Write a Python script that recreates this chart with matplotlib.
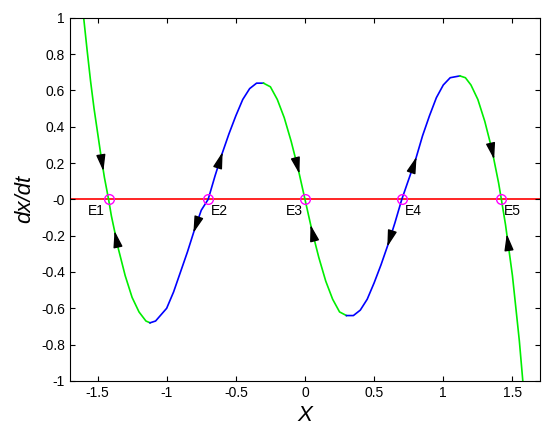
import numpy as np
import matplotlib.pyplot as plt

plt.rcParams['font.family'] = ['Liberation Sans', 'DejaVu Sans']
plt.rcParams['axes.unicode_minus'] = False

# curve: x and dx/dt
xs = [-1.60, -1.575, -1.55, -1.525, -1.50, -1.475, -1.45, -1.42, -1.40, -1.35, -1.30, -1.25, -1.20, -1.15, -1.12,
      -1.08, -1.00, -0.95, -0.90, -0.85, -0.80, -0.75, -0.70, -0.65, -0.60, -0.55, -0.50, -0.45, -0.40, -0.35,
      -0.30, -0.25, -0.20, -0.15, -0.10, -0.05, 0.00, 0.05, 0.10, 0.15, 0.20, 0.25, 0.30, 0.35, 0.40, 0.45,
      0.50, 0.55, 0.60, 0.65, 0.70, 0.75, 0.80, 0.85, 0.90, 0.95, 1.00, 1.05, 1.12, 1.16, 1.20, 1.25, 1.30,
      1.35, 1.40, 1.42, 1.45, 1.475, 1.50, 1.525, 1.55, 1.575]
ys = [1.00, 0.82, 0.65, 0.50, 0.37, 0.24, 0.12, 0.00, -0.09, -0.27, -0.42, -0.54, -0.62, -0.67, -0.68,
      -0.67, -0.60, -0.51, -0.40, -0.29, -0.17, -0.06, 0.00, 0.13, 0.25, 0.36, 0.46, 0.55, 0.61, 0.64,
      0.64, 0.62, 0.55, 0.45, 0.32, 0.17, 0.00, -0.17, -0.32, -0.45, -0.55, -0.62, -0.64, -0.64, -0.61, -0.55,
      -0.46, -0.36, -0.25, -0.13, 0.00, 0.11, 0.22, 0.35, 0.46, 0.56, 0.63, 0.67, 0.68, 0.67, 0.63, 0.55, 0.43,
      0.28, 0.09, 0.00, -0.14, -0.28, -0.42, -0.60, -0.78, -1.00]
# segment boundaries (extrema) and colours
seg_bounds = [-1.60, -1.12, -0.30, 0.30, 1.12, 1.575]
seg_colors = ['#00ee00', '#0000ff', '#00ee00', '#0000ff', '#00ee00']
eq_x = [-1.42, -0.70, 0.0, 0.70, 1.42]
eq_labels = ['E1', 'E2', 'E3', 'E4', 'E5']
eq_label_x = [-1.57, -0.68, -0.14, 0.72, 1.44]
# arrows: position x and direction (+1 up, -1 down)
arrow_x = [-1.47, -1.36, -0.62, -0.78, -0.06, 0.06, 0.78, 0.62, 1.35, 1.47]
arrow_dir = [-1, 1, 1, -1, -1, 1, 1, -1, -1, 1]

xs = np.array(xs)
ys = np.array(ys)

fig = plt.figure(figsize=(5.5, 4.45), dpi=100)
ax = fig.add_axes([0.127, 0.144, 0.855, 0.816])

ax.axhline(0, color='red', lw=1.2, zorder=1)
for i, c in enumerate(seg_colors):
    m = (xs >= seg_bounds[i] - 1e-9) & (xs <= seg_bounds[i + 1] + 1e-9)
    ax.plot(xs[m], ys[m], color=c, lw=1.2, zorder=2)

for ax_x, d in zip(arrow_x, arrow_dir):
    y0 = np.interp(ax_x, xs, ys)
    slope = (np.interp(ax_x + 0.01, xs, ys) - np.interp(ax_x - 0.01, xs, ys)) / 0.02
    dx, dy = 1.0, slope
    if np.sign(dy) != d:
        dx, dy = -dx, -dy
    n = np.hypot(dx * 138, dy * 181)
    dx, dy = dx / n * 14, dy / n * 14
    ax.annotate('', xy=(ax_x + dx, y0 + dy), xytext=(ax_x, y0),
                arrowprops=dict(arrowstyle='-|>,head_length=1.0,head_width=0.28', color='k', lw=1.0),
                zorder=4)

ax.plot(eq_x, [0] * len(eq_x), 'o', mfc='none', mec='#ff00ff', ms=7, mew=1.0, zorder=5)
for lx, lab in zip(eq_label_x, eq_labels):
    ax.text(lx, -0.025, lab, fontsize=10, va='top', ha='left')

ax.set_xlim(-1.7, 1.7)
ax.set_ylim(-1, 1)
xt = [-1.5, -1, -0.5, 0, 0.5, 1, 1.5]
yt = np.round(np.arange(-1, 1.01, 0.2), 1)
ax.set_xticks(xt)
ax.set_xticklabels(['%g' % v for v in xt])
ax.set_yticks(yt)
ax.set_yticklabels(['%g' % v for v in yt])
ax.tick_params(direction='in', labelsize=10, top=True, right=True)
ax.set_xlabel('X', fontsize=16, style='italic')
ax.set_ylabel('dx/dt', fontsize=16, style='italic')

fig.savefig('out.png', dpi=100)
